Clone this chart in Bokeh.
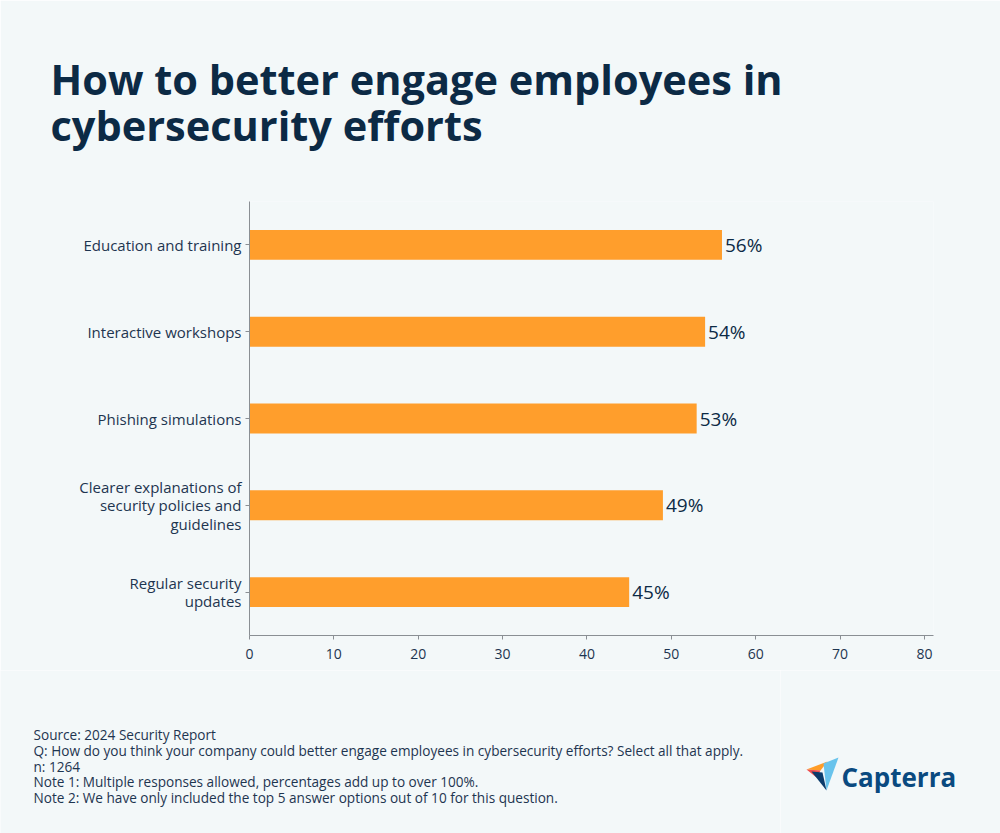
from bokeh.plotting import figure
from bokeh.layouts import column, row
from bokeh.models import FactorRange, Range1d, FixedTicker, ColumnDataSource, Title
from bokeh.core.properties import value
from bokeh.embed import file_html
from bokeh.resources import INLINE

# Survey results
categories = [
    "Education and training",
    "Interactive workshops",
    "Phishing simulations",
    "Clearer explanations of\nsecurity policies and\nguidelines",
    "Regular security\nupdates",
]
percentages = [56, 54, 53, 49, 45]
x_ticks = [0, 10, 20, 30, 40, 50, 60, 70, 80]

title_text = "How to better engage employees in\ncybersecurity efforts"
footnotes = [
    "Source: 2024 Security Report",
    "Q: How do you think your company could better engage employees in cybersecurity efforts? Select all that apply.",
    "n: 1264",
    "Note 1: Multiple responses allowed, percentages add up to over 100%.",
    "Note 2: We have only included the top 5 answer options out of 10 for this question.",
]

BG = "#f3f8f9"
NAVY = "#0c2a45"
TEXT = "#1e3550"
ORANGE = "#ff9e2c"
AXIS = "#8a8f94"
FONT = "Open Sans"

W = 1000
CHART_H = 670
FOOT_H = 833 - CHART_H
NOTES_W = 780
LOGO_W = W - NOTES_W

p = figure(
    width=W, height=CHART_H,
    y_range=FactorRange(factors=list(reversed(categories)), range_padding=0),
    x_range=Range1d(0, 81.07),
    output_backend="svg", toolbar_location=None,
    min_border_left=249, min_border_right=67,
    min_border_top=200, min_border_bottom=35,
    background_fill_color=BG, border_fill_color=BG,
)
p.outline_line_color = None
p.xgrid.visible = False
p.ygrid.visible = False

src = ColumnDataSource(dict(
    cat=categories,
    pct=percentages,
    lbl=[f"{v}%" for v in percentages],
))

p.hbar(y="cat", right="pct", left=0, height=0.345, source=src,
       fill_color=ORANGE, line_color=None)
p.text(x="pct", y="cat", text="lbl", source=src, x_offset=3,
       text_align="left", text_baseline="middle",
       text_font=value(FONT), text_font_size="19px", text_color=NAVY)

for ax in (p.xaxis[0], p.yaxis[0]):
    ax.axis_line_color = AXIS
    ax.major_tick_line_color = AXIS
    ax.minor_tick_line_color = None
    ax.major_tick_in = 0
    ax.major_tick_out = 4
    ax.major_label_text_font = FONT
    ax.major_label_text_color = TEXT
    ax.major_label_text_font_size = "14px"

p.xaxis.ticker = FixedTicker(ticks=x_ticks)
p.xaxis.major_label_standoff = 9
p.yaxis.major_label_standoff = 4
p.yaxis.major_label_text_font_size = "15px"
p.yaxis.major_label_text_line_height = 0.93
p.yaxis.major_label_text_align = "right"

p.add_layout(Title(
    text=title_text, align="left", offset=-199, standoff=97,
    text_font=FONT, text_font_style="bold", text_font_size="41.5px",
    text_color=NAVY, text_line_height=0.82,
), "above")


def blank(width, height):
    """A bare panel whose data units are pixels, y growing downwards."""
    f = figure(width=width, height=height, x_range=Range1d(0, width),
               y_range=Range1d(height, 0), x_axis_type=None, y_axis_type=None,
               output_backend="svg", toolbar_location=None,
               min_border=0, background_fill_color=BG, border_fill_color=BG)
    f.outline_line_color = None
    f.xgrid.visible = False
    f.ygrid.visible = False
    return f


# Notes
notes = blank(NOTES_W, FOOT_H)
notes.text(x=[33] * len(footnotes),
           y=[734 - CHART_H + i * 15.8 for i in range(len(footnotes))],
           text=footnotes, text_font=value(FONT), text_font_size="13.6px",
           text_color=TEXT, text_baseline="alphabetic")

# Brand mark
logo = blank(LOGO_W, FOOT_H)
mark_xs = [
    [806, 827, 820],
    [806, 820, 816],
    [823, 838, 826],
    [811, 822, 826],
]
mark_ys = [
    [769, 761, 770],
    [769, 770, 777],
    [763, 757, 790],
    [771, 772, 790],
]
mark_colors = ["#ff9d28", "#ef4e4e", "#68c3ec", "#0b3b6b"]
logo.patches(xs=[[v - NOTES_W for v in xs] for xs in mark_xs],
             ys=[[v - CHART_H for v in ys] for ys in mark_ys],
             fill_color=mark_colors, line_color=None)
logo.text(x=[841 - NOTES_W], y=[776 - CHART_H], text=["Capterra"],
          text_font=value(FONT), text_font_style="bold", text_font_size="26px",
          text_color="#0a4a80", text_baseline="alphabetic")

layout = column(p, row(notes, logo, spacing=0), spacing=0)
open("out.html", "w").write(file_html(layout, INLINE))
